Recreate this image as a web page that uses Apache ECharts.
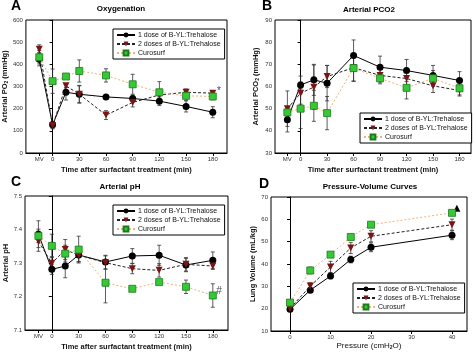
<!DOCTYPE html>
<html>
<head>
<meta charset="utf-8">
<script src="https://cdn.jsdelivr.net/npm/echarts@6/dist/echarts.min.js"></script>
<style>
  html, body { margin: 0; padding: 0; background: #fff; }
  #chart { width: 474px; height: 352px; }
</style>
</head>
<body>
<div id="chart"></div>
<script>
// time axis, MV plotted just before 0
const timePts = [-15, 0, 15, 30, 60, 90, 120, 150, 180]
const timeTicks = [-15, 0, 30, 60, 90, 120, 150, 180]
const pressurePts = [0, 5, 10, 15, 20, 40]
const pressureTicks = [0, 10, 20, 30, 40]
const seriesNames = ['1 dose of B-YL:Trehalose', '2 doses of B-YL:Trehalose', 'Curosurf']

// A - oxygenation
const po2One = [423, 127, 274, 265, 253, 246, 234, 210, 184]
const po2OneErr = [30, 15, 35, 38, 10, 15, 20, 25, 25]
const po2Two = [468, 124, 303, 265, 171, 228, 262, 274, 270]
const po2TwoErr = [20, 15, 8, 40, 20, 20, 15, 15, 10]
const po2Curo = [432, 324, 345, 370, 350, 310, 274, 258, 255]
const po2CuroErr = [30, 55, 10, 50, 30, 45, 48, 20, 15]

// B - PCO2
const pco2One = [45, 60.7, 63, 61.5, 74, 68.7, 67.2, 65, 62.7]
const pco2OneErr = [5.5, 4, 7, 8, 7, 5, 5, 4.5, 4]
const pco2Two = [50, 57, 59.7, 64.5, 68.5, 65, 63.6, 60.3, 58.2]
const pco2TwoErr = [8, 5, 10, 5, 6, 3, 4, 3, 2.5]
const pco2Curo = [48.3, 50, 51.3, 48, 68.3, 63.7, 59.4, 63.7, 59.2]
const pco2CuroErr = [2, 9, 7, 7.5, 6, 2.5, 5, 3.5, 3]

// C - pH
const phOne = [7.386, 7.281, 7.291, 7.324, 7.303, 7.321, 7.323, 7.294, 7.308]
const phOneErr = [0.04, 0.015, 0.035, 0.02, 0.02, 0.022, 0.03, 0.02, 0.025]
const phTwo = [7.365, 7.299, 7.34, 7.323, 7.301, 7.283, 7.278, 7.296, 7.291]
const phTwoErr = [0.03, 0.02, 0.03, 0.02, 0.02, 0.015, 0.02, 0.02, 0.01]
const phCuro = [7.381, 7.351, 7.328, 7.34, 7.241, 7.223, 7.243, 7.229, 7.203]
const phCuroErr = [0.02, 0.035, 0.025, 0.04, 0.06, 0.005, 0.005, 0.02, 0.035]

// D - pressure volume
const volOne = [19.7, 28.3, 34.6, 42, 47.5, 52.9]
const volOneErr = [1, 1, 1.2, 1.5, 2, 2]
const volTwo = [20.1, 30.1, 38.7, 47.2, 52.4, 57.6]
const volTwoErr = [1, 1.5, 2.5, 2.5, 2.5, 2.5]
const volCuro = [22.7, 37.1, 44.2, 52.1, 57.6, 62.9]
const volCuroErr = [1, 1.5, 1, 1, 0.7, 0.5]

const FONT = 'Liberation Sans, Arial, sans-serif'
const styles = [
  { line: { color: '#000', width: 1, type: 'solid' }, symbol: 'circle', size: 7, item: { color: '#000' } },
  { line: { color: '#222', width: 1, type: [3, 2] }, symbol: 'path://M0,0 L10,0 L5,9 Z', size: 7, item: { color: '#7b1515' } },
  { line: { color: '#f2b27a', width: 1, type: [2, 2] }, symbol: 'rect', size: 7, item: { color: '#36c936', borderColor: '#1c7a1c', borderWidth: 0.8 } }
]

function errRender(params, api) {
  const x = api.value(0)
  const lo = api.coord([x, api.value(1)])
  const hi = api.coord([x, api.value(2)])
  const c = 2
  const st = { stroke: '#333', lineWidth: 0.8 }
  return {
    type: 'group',
    children: [
      { type: 'line', shape: { x1: lo[0], y1: lo[1], x2: hi[0], y2: hi[1] }, style: st },
      { type: 'line', shape: { x1: lo[0] - c, y1: lo[1], x2: lo[0] + c, y2: lo[1] }, style: st },
      { type: 'line', shape: { x1: hi[0] - c, y1: hi[1], x2: hi[0] + c, y2: hi[1] }, style: st }
    ]
  }
}

const series = []
function addPanel(idx, xs, groups) {
  groups.forEach((g, k) => {
    series.push({
      type: 'custom',
      xAxisIndex: idx,
      yAxisIndex: idx,
      renderItem: errRender,
      encode: { x: 0, y: [1, 2] },
      z: 2 + k,
      silent: true,
      data: xs.map((x, i) => [x, g[0][i] - g[1][i], g[0][i] + g[1][i]])
    })
  })
  groups.forEach((g, k) => {
    const s = styles[k]
    series.push({
      name: seriesNames[k],
      type: 'line',
      xAxisIndex: idx,
      yAxisIndex: idx,
      z: 5 + k,
      symbol: s.symbol,
      symbolSize: s.size,
      lineStyle: s.line,
      itemStyle: s.item,
      animation: false,
      data: xs.map((x, i) => [x, g[0][i]])
    })
  })
}

addPanel(0, timePts, [[po2One, po2OneErr], [po2Two, po2TwoErr], [po2Curo, po2CuroErr]])
addPanel(1, timePts, [[pco2One, pco2OneErr], [pco2Two, pco2TwoErr], [pco2Curo, pco2CuroErr]])
addPanel(2, timePts, [[phOne, phOneErr], [phTwo, phTwoErr], [phCuro, phCuroErr]])
addPanel(3, pressurePts, [[volOne, volOneErr], [volTwo, volTwoErr], [volCuro, volCuroErr]])

// significance marks
function mark(seriesIdx, coord, text, color) {
  series[seriesIdx].markPoint = {
    symbol: 'circle',
    symbolSize: 1,
    itemStyle: { color: 'rgba(0,0,0,0)' },
    label: { show: true, position: 'inside', formatter: text, color: color, fontSize: 10, fontFamily: FONT },
    data: [{ coord: coord }]
  }
}
mark(5, [187, 280], '*', '#4a3a8a')
mark(17, [187, 7.215], '#', '#444')
series[23].markPoint = {
  symbol: 'triangle',
  symbolSize: 7,
  itemStyle: { color: '#000' },
  label: { show: false },
  data: [{ coord: [41.2, 65] }]
}

const grids = [
  { left: 25, top: 20, width: 202, height: 133 },
  { left: 275, top: 20, width: 196, height: 133 },
  { left: 25, top: 196, width: 203, height: 134 },
  { left: 271, top: 197, width: 196, height: 134 }
].map(g => Object.assign(g, { show: true, borderColor: '#000', borderWidth: 1, backgroundColor: '#fff' }))

const tickLab = { fontSize: 6, color: '#333', fontFamily: FONT, margin: 3 }
const nameStyle = { fontSize: 7.5, fontWeight: 'bold', color: '#111', fontFamily: FONT, rich: { s: { fontSize: 5, fontWeight: 'bold', verticalAlign: 'bottom', padding: [3, 0, 0, 0] } } }
const axLine = { show: true, lineStyle: { color: '#000', width: 1 } }
const axTick = { show: true, length: 3, lineStyle: { color: '#000' } }

function timeAxis(i, min, max) {
  return {
    type: 'value', gridIndex: i, min: min, max: max,
    name: 'Time after surfactant treatment (min)', nameLocation: 'middle', nameGap: 13, nameTextStyle: nameStyle,
    axisLine: axLine, splitLine: { show: false },
    axisTick: Object.assign({ customValues: timeTicks }, axTick),
    axisLabel: Object.assign({ customValues: timeTicks, formatter: v => v < 0 ? 'MV' : String(v) }, tickLab)
  }
}
function yAxis(i, min, max, interval, name, gap, fmt) {
  return {
    type: 'value', gridIndex: i, min: min, max: max, interval: interval,
    name: name, nameLocation: 'middle', nameGap: gap, nameTextStyle: nameStyle,
    axisLine: axLine, splitLine: { show: false }, axisTick: axTick,
    axisLabel: Object.assign({ formatter: fmt }, tickLab)
  }
}

const xAxes = [
  timeAxis(0, -30, 196),
  timeAxis(1, -29, 193),
  timeAxis(2, -30, 197),
  {
    type: 'value', gridIndex: 3, min: -4.7, max: 43.7,
    name: 'Pressure (cmH{s|2}O)', nameLocation: 'middle', nameGap: 11, nameTextStyle: Object.assign({}, nameStyle, { fontWeight: 'normal', fontSize: 8 }),
    axisLine: axLine, splitLine: { show: false },
    axisTick: Object.assign({ customValues: pressureTicks }, axTick),
    axisLabel: Object.assign({ customValues: pressureTicks }, tickLab)
  }
]
const yAxes = [
  yAxis(0, 0, 600, 100, 'Arterial PO{s|2} (mmHg)', 12, v => String(v)),
  yAxis(1, 30, 90, 10, 'Arterial PCO{s|2} (mmHg)', 15, v => String(v)),
  yAxis(2, 7.1, 7.5, 0.1, 'Arterial pH', 13, v => v.toFixed(1)),
  yAxis(3, 10, 70, 10, 'Lung Volume (mL/kg)', 13, v => String(v))
]

function legendAt(left, top) {
  return {
    data: seriesNames, orient: 'vertical', left: left, top: top,
    backgroundColor: '#fff', borderColor: '#000', borderWidth: 1,
    padding: [2, 4, 2, 3], itemGap: 1, itemWidth: 18, itemHeight: 6,
    selectedMode: false,
    textStyle: { fontSize: 7, color: '#111', fontFamily: FONT, padding: [0, 0, 0, -2], lineHeight: 8 }
  }
}

function txt(x, y, text, size, weight) {
  return { type: 'text', x: x, y: y, style: { text: text, font: weight + ' ' + size + 'px ' + FONT, fill: '#000', textAlign: 'center', textVerticalAlign: 'middle' } }
}

const chart = echarts.init(document.getElementById('chart'), null, { renderer: 'canvas' })
chart.setOption({
  animation: false,
  grid: grids,
  xAxis: xAxes,
  yAxis: yAxes,
  legend: [legendAt(113, 29), legendAt(360, 113), legendAt(113, 205), legendAt(353, 283)],
  graphic: [
    txt(16, 6, 'A', 14, 'bold'),
    txt(267, 6, 'B', 14, 'bold'),
    txt(16, 182, 'C', 14, 'bold'),
    txt(264, 184, 'D', 14, 'bold'),
    txt(121, 9, 'Oxygenation', 8, 'bold'),
    txt(369, 10, 'Arterial PCO2', 8, 'bold'),
    txt(120, 187, 'Arterial pH', 8, 'bold'),
    txt(370, 187, 'Pressure-Volume Curves', 8, 'bold')
  ],
  series: series
})
</script>
</body>
</html>
